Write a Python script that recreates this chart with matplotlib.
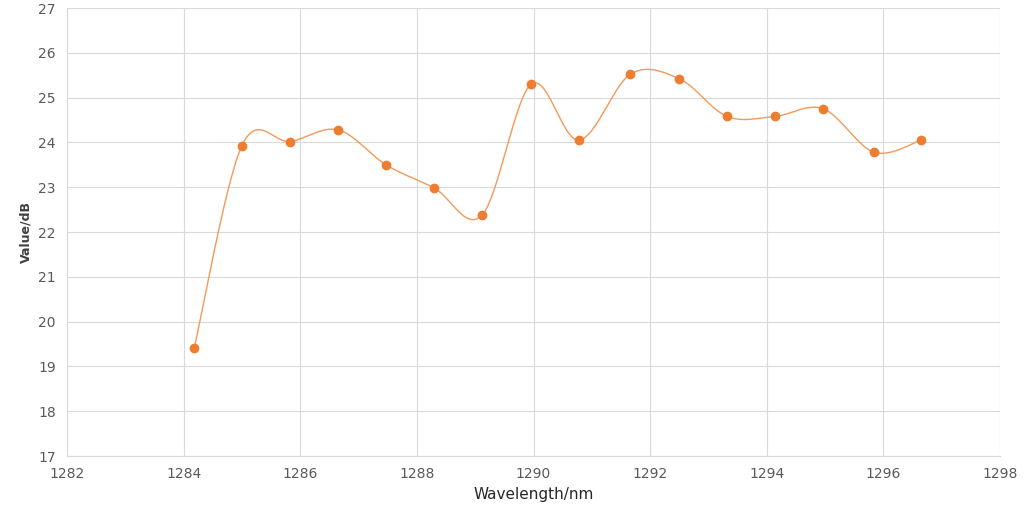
import numpy as np
import matplotlib
matplotlib.use("Agg")
import matplotlib.pyplot as plt

wavelength = [1284.18, 1285.0, 1285.83, 1286.65, 1287.47, 1288.3, 1289.12, 1289.96,
              1290.78, 1291.66, 1292.5, 1293.32, 1294.14, 1294.97, 1295.84, 1296.65]
value_db = [19.4, 23.93, 24.02, 24.28, 23.5, 22.98, 22.38, 25.3,
            24.05, 25.52, 25.42, 24.58, 24.58, 24.75, 23.78, 24.05]


def smooth(xs, ys, n=30):
    # Excel-like smoothed line: bezier segments with catmull-rom controls
    p = np.column_stack([xs, ys])
    pts = []
    for i in range(len(p) - 1):
        p0 = p[max(i - 1, 0)]
        p1 = p[i]
        p2 = p[i + 1]
        p3 = p[min(i + 2, len(p) - 1)]
        c1 = p1 + (p2 - p0) / 6
        c2 = p2 - (p3 - p1) / 6
        t = np.linspace(0, 1, n)[:, None]
        seg = ((1 - t) ** 3) * p1 + 3 * ((1 - t) ** 2) * t * c1 + 3 * (1 - t) * t ** 2 * c2 + t ** 3 * p2
        pts.append(seg)
    pts = np.vstack(pts)
    return pts[:, 0], pts[:, 1]


fig = plt.figure(figsize=(10.24, 5.23), dpi=100)
ax = fig.add_axes([67 / 1024, 1 - 456 / 523, 933 / 1024, 448 / 523])

sx, sy = smooth(wavelength, value_db)
ax.plot(sx, sy, color='#F19A5A', lw=1.0)
ax.plot(wavelength, value_db, 'o', color='#ED7D31', ms=6)

ax.set_xlim(1282, 1298)
ax.set_ylim(17, 27)
ax.set_xticks(range(1282, 1299, 2))
ax.set_yticks(range(17, 28))
ax.grid(color='#D9D9D9', lw=0.8)
ax.set_axisbelow(True)
for s in ['top', 'right']:
    ax.spines[s].set_visible(False)
for s in ['left', 'bottom']:
    ax.spines[s].set_color('#D9D9D9')
ax.tick_params(length=0, labelsize=10, colors='#595959', pad=8)
ax.set_xlabel('Wavelength/nm', fontsize=11, color='#262626')
ax.set_ylabel('Value/dB', fontsize=9, fontweight='bold', color='#404040')

fig.savefig('out.png', dpi=100)
